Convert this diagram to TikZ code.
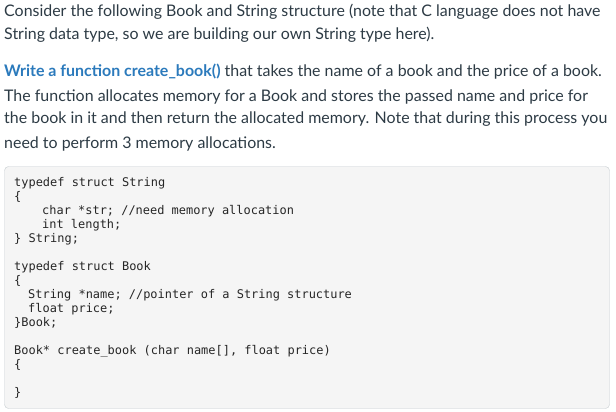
\documentclass[tikz,border=0pt]{standalone}
\usepackage{fontspec}
\setmainfont{Lato}
\setmonofont{DejaVu Sans Mono}
\definecolor{txt}{HTML}{2D3B45}
\definecolor{lnk}{HTML}{2B7ABC}
\definecolor{codebg}{HTML}{F5F5F5}
\definecolor{codeln}{HTML}{C7CDD1}
\tikzset{
 para/.style={anchor=base west,inner sep=0pt,text=txt,font=\fontsize{15.95}{18}\selectfont},
 code/.style={anchor=base west,inner sep=0pt,text=black!85,font=\ttfamily\fontsize{11.95}{14}\selectfont}
}
\begin{document}
\begin{tikzpicture}[x=1pt,y=-1pt]
\useasboundingbox[fill=white] (0,0) rectangle (616,412);
\node[para] (p1) at (4,17) {Consider the following Book and String structure (note that C language does not have};
\node[para] (p2) at (4,40) {String data type, so we are building our own String type here).};
\node[para] (p3) at (4,77) {\textcolor{lnk}{\bfseries Write a function create\_book()} that takes the name of a book and the price of a book.};
\node[para] (p4) at (4,101) {The function allocates memory for a Book and stores the passed name and price for};
\node[para] (p5) at (4,124) {the book in it and then return the allocated memory. Note that during this process you};
\node[para] (p6) at (4,148) {need to perform 3 memory allocations.};
\draw[codeln,fill=codebg,rounded corners=4pt] (4.5,166.5) rectangle (609.5,408.5);
\foreach \t/\xx/\yy [count=\i] in {
 {typedef struct String}/14/186,
 {\{}/14/200,
 {char *str; //need memory allocation}/42/214,
 {int length;}/42/228,
 {\} String;}/14/242,
 {typedef struct Book}/14/270,
 {\{}/14/284,
 {String *name; //pointer of a String structure}/28/298,
 {float price;}/28/312,
 {\}Book;}/14/326,
 {Book* create\_book (char name[], float price)}/14/354,
 {\{}/14/368,
 {\}}/14/396}
 \node[code] (c\i) at (\xx,\yy) {\t};
\end{tikzpicture}
\end{document}
